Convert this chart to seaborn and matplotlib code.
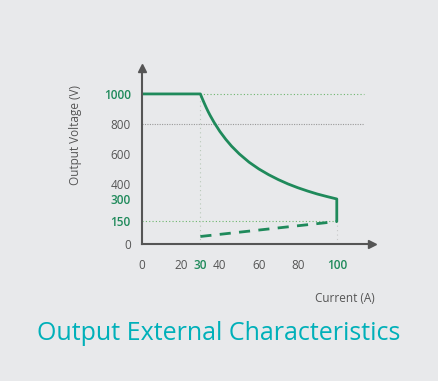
import pandas as pd
import matplotlib.pyplot as plt
import seaborn as sns

# values
current_cp = [30, 31, 32, 33, 34, 35, 37, 40, 43, 46, 50, 55, 60, 65, 70, 75, 80, 85, 90, 95, 100]
voltage_cp = [1000, 968, 938, 909, 882, 857, 811, 750, 698, 652, 600, 545, 500, 462, 429,
              400, 375, 353, 333, 316, 300]
current_cv = [0, 30]
voltage_cv = [1000, 1000]
current_drop = [100, 100]
voltage_drop = [300, 150]
current_low = [30, 100]
voltage_low = [50, 150]

xticks = [0, 20, 30, 40, 60, 80, 100]
yticks = [0, 150, 300, 400, 600, 800, 1000]
green_ticks = {30, 100, 150, 300, 1000}

green = '#1f8a5b'
grey = '#555555'
bg = '#e8e9eb'

sns.set_theme(style='white')
plt.rcParams['font.family'] = ['Open Sans', 'DejaVu Sans']

fig = plt.figure(figsize=(4.38, 3.81), dpi=100, facecolor=bg)
ax = fig.add_axes([0.324, 0.3596, 0.525, 0.462])
ax.set_facecolor(bg)

# reference lines
ax.plot([30, 114], [1000, 1000], color='#6cb56c', lw=0.8, ls=(0, (1, 2)))
ax.plot([0, 114], [800, 800], color='#999999', lw=0.8, ls=(0, (1, 1.2)))
ax.plot([0, 100], [150, 150], color='#6cb56c', lw=0.8, ls=(0, (1, 2)))
ax.plot([30, 30], [0, 1000], color='#b8c8b8', lw=0.8, ls=(0, (1, 3)))
ax.plot([100, 100], [0, 150], color='#c8c8c8', lw=0.8, ls=(0, (1, 3)))

full = pd.DataFrame({'I': current_cv + current_cp + current_drop,
                     'V': voltage_cv + voltage_cp + voltage_drop})
sns.lineplot(x='I', y='V', data=full, sort=False, estimator=None, color=green, lw=2, ax=ax)
low = pd.DataFrame({'I': current_low, 'V': voltage_low})
sns.lineplot(x='I', y='V', data=low, estimator=None, color=green, lw=2, ls=(0, (4, 3)), ax=ax)

ax.set_xlim(0, 118)
ax.set_ylim(0, 1173)
for s in ['top', 'right']:
    ax.spines[s].set_visible(False)
for s in ['left', 'bottom']:
    ax.spines[s].set_color(grey)
    ax.spines[s].set_linewidth(1.5)
ax.plot(1, 0, '>', color=grey, ms=6, transform=ax.get_yaxis_transform(), clip_on=False)
ax.plot(0, 1, '^', color=grey, ms=6, transform=ax.get_xaxis_transform(), clip_on=False)

ax.set_xticks(xticks)
ax.set_yticks(yticks)
ax.set_xticklabels([str(t) for t in xticks])
ax.set_yticklabels([str(t) for t in yticks])
ax.tick_params(length=0, labelsize=8.5, colors=grey)
ax.tick_params(axis='x', pad=11)
ax.tick_params(axis='y', pad=8)
for lab, t in zip(ax.get_xticklabels(), xticks):
    if t in green_ticks:
        lab.set_color(green)
        lab.set_fontweight('semibold')
for lab, t in zip(ax.get_yticklabels(), yticks):
    if t in green_ticks:
        lab.set_color(green)
        lab.set_fontweight('semibold')

ax.set_xlabel('')
ax.set_ylabel('')
fig.text(75 / 438, 1 - 135 / 381, 'Output Voltage (V)', rotation=90, ha='center',
         va='center', fontsize=8.5, color=grey)
fig.text(345 / 438, 1 - 298 / 381, 'Current (A)', ha='center', va='center',
         fontsize=8.5, color=grey)
fig.text(219 / 438, 1 - 333 / 381, 'Output External Characteristics', ha='center',
         va='center', fontsize=18, color='#00b0b9')

fig.savefig('out.png', dpi=100, facecolor=bg)
